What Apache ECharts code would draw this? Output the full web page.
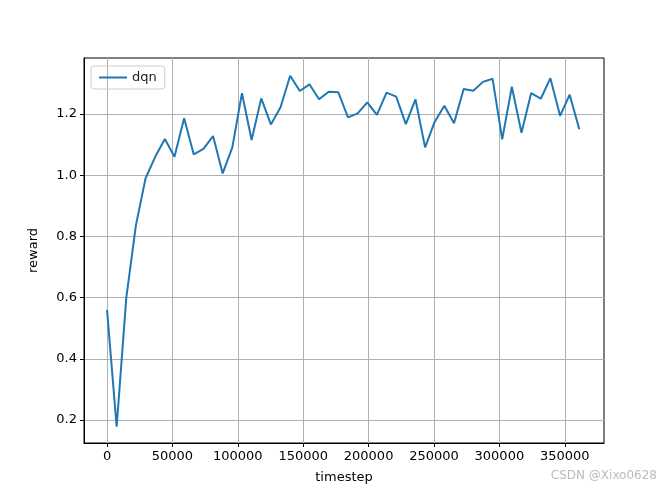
<!DOCTYPE html>
<html>
<head>
<meta charset="utf-8">
<script src="https://cdn.jsdelivr.net/npm/echarts@6/dist/echarts.min.js"></script>
<style>html,body{margin:0;background:#fff}#chart{width:671px;height:492px}</style>
</head>
<body>
<div id="chart"></div>
<script>
// x step between points
const step = 7370
const rewards = [
	0.56, 0.178, 0.60, 0.837, 0.99, 1.06, 1.118, 1.06, 1.186, 1.068,
	1.086, 1.128, 1.006, 1.091, 1.268, 1.115, 1.251, 1.166, 1.222, 1.325,
	1.275, 1.297, 1.248, 1.273, 1.271, 1.189, 1.202, 1.238, 1.197, 1.27,
	1.257, 1.167, 1.248, 1.091, 1.175, 1.227, 1.17, 1.282, 1.276, 1.305,
	1.315, 1.117, 1.289, 1.139, 1.268, 1.25, 1.317, 1.194, 1.263, 1.15
]
const xTicks = [0, 50000, 100000, 150000, 200000, 250000, 300000, 350000]
const yTicks = [0.2, 0.4, 0.6, 0.8, 1.0, 1.2]

const data = rewards.map((v, i) => [i * step, v])
const font = 'DejaVu Sans'
const chart = echarts.init(document.getElementById('chart'))
chart.setOption({
	animation: false,
	textStyle: { fontFamily: font },
	legend: {
		left: 91, top: 66,
		data: ['dqn'],
		itemWidth: 28, itemHeight: 2,
		icon: 'rect',
		borderColor: '#ccc', borderWidth: 1, borderRadius: 3,
		padding: [5, 8],
		textStyle: { fontSize: 13, color: '#222', fontFamily: font }
	},
	grid: { left: 84, right: 67, top: 58, bottom: 49 },
	xAxis: {
		type: 'value',
		min: -17600, max: 380000,
		name: 'timestep', nameLocation: 'middle', nameGap: 28,
		nameTextStyle: { fontSize: 13, color: '#000' },
		axisLine: { onZero: false, lineStyle: { color: '#000' } },
		axisTick: { customValues: xTicks, length: 4, lineStyle: { color: '#000' } },
		axisLabel: { customValues: xTicks, fontSize: 13, color: '#000', margin: 7, formatter: v => String(v) },
		splitLine: { show: true, lineStyle: { color: '#b0b0b0', width: 1 } }
	},
	yAxis: {
		type: 'value',
		min: 0.125, max: 1.383,
		name: 'reward', nameLocation: 'middle', nameGap: 44,
		nameTextStyle: { fontSize: 13, color: '#000' },
		axisLine: { show: true, onZero: false, lineStyle: { color: '#000' } },
		axisTick: { show: true, customValues: yTicks, length: 4, lineStyle: { color: '#000' } },
		axisLabel: { customValues: yTicks, fontSize: 13, color: '#000', margin: 7, formatter: v => v.toFixed(1) },
		splitLine: { show: true, lineStyle: { color: '#b0b0b0', width: 1 } }
	},
	series: [{
		name: 'dqn',
		type: 'line',
		data: data,
		showSymbol: false,
		color: '#1f77b4',
		lineStyle: { width: 2 }
	}],
	graphic: [
		{ type: 'rect', shape: { x: 84, y: 58, width: 520, height: 385 }, style: { fill: 'none', stroke: '#000', lineWidth: 1 }, silent: true },
		{ type: 'text', right: 14, bottom: 10, style: { text: 'CSDN @Xixo0628', fill: '#bbb', fontSize: 12, fontFamily: font } }
	]
})
</script>
</body>
</html>
